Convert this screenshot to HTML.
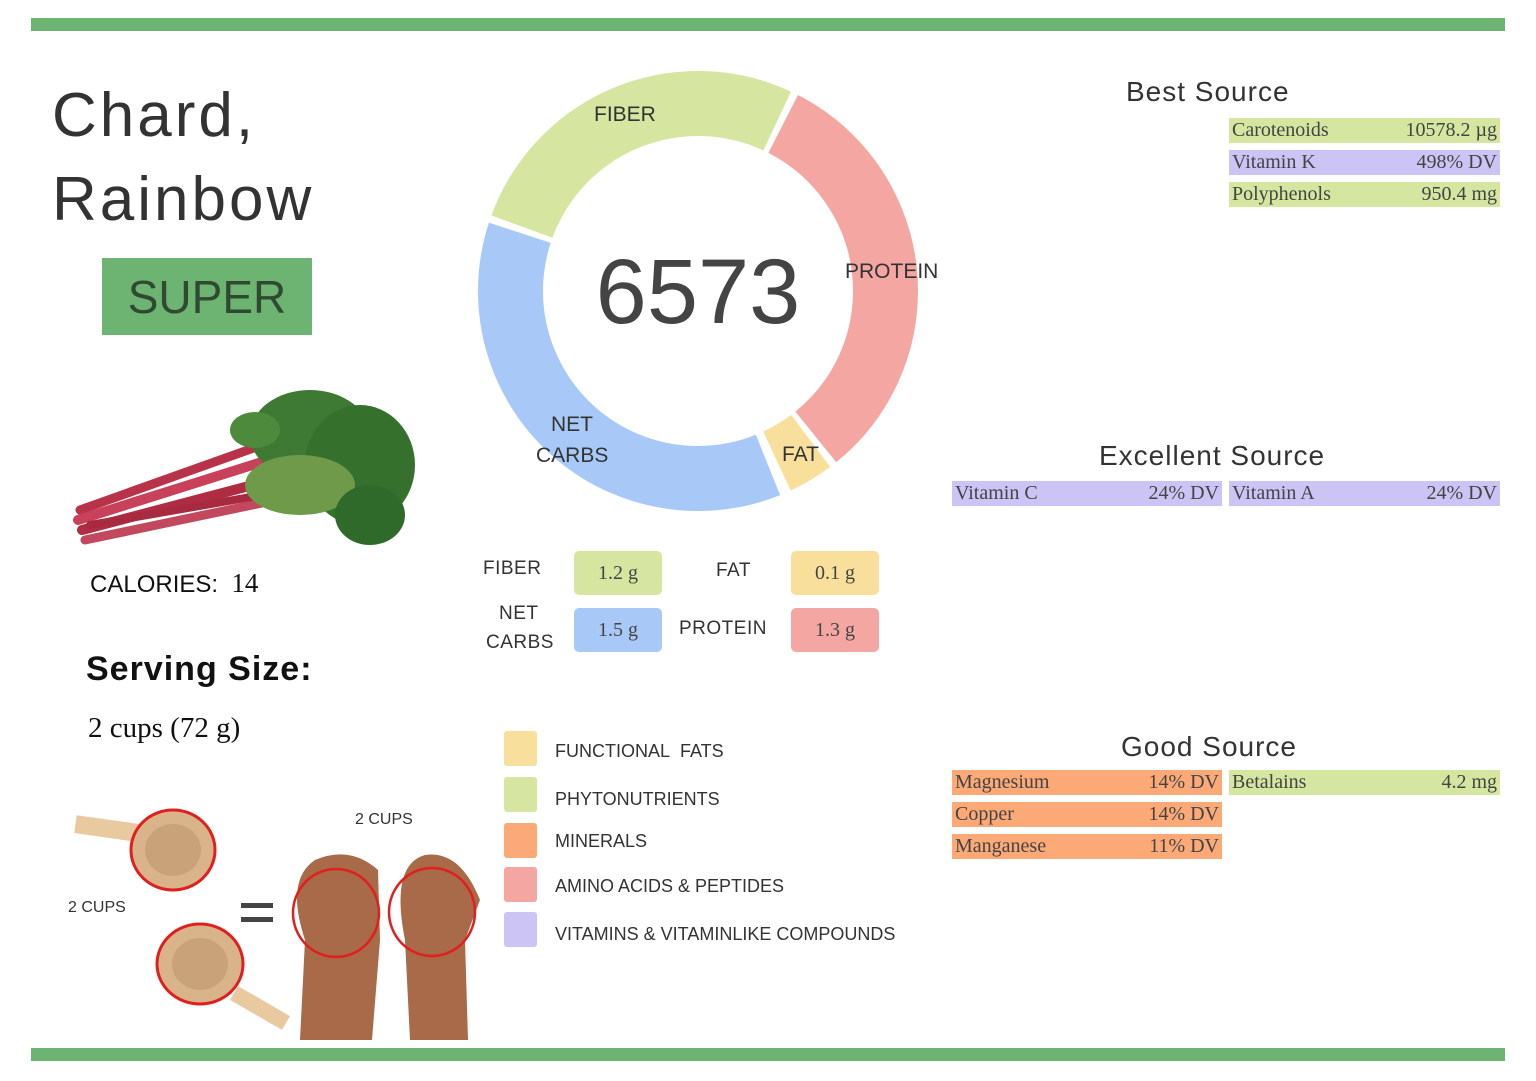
<!DOCTYPE html>
<html><head><meta charset="utf-8"><style>
body{margin:0;width:1536px;height:1081px;background:#fff;position:relative;overflow:hidden;font-family:"Liberation Sans",sans-serif;color:#333}
.a{position:absolute;white-space:nowrap}
.bar{position:absolute;left:31px;width:1474px;height:13px;background:#6db472}
.ser{font-family:"Liberation Serif",serif;font-size:20px;color:#444}
.row{position:absolute;height:25px;display:flex;justify-content:space-between;align-items:center;padding:0 3px;box-sizing:border-box}
.g{background:#d5e6a0}.p{background:#cbc4f5}.o{background:#fba977}
.pill{position:absolute;width:88px;height:44px;border-radius:5px;font-family:"Liberation Serif",serif;font-size:20px;color:#444;display:flex;align-items:center;justify-content:center}
.lab{font-size:19px;color:#333;letter-spacing:.5px}
.sw{position:absolute;left:504px;width:33px;height:35px;border-radius:3px}
</style></head><body>
<div class="bar" style="top:18px"></div>
<div class="bar" style="top:1048px"></div>

<div class="a" style="left:52px;top:74px;font-size:62px;color:#333;line-height:84px;letter-spacing:3px">Chard,<br>Rainbow</div>
<div class="a" style="left:102px;top:258px;width:210px;height:77px;background:#6db472;color:#2f4a30;font-size:46px;display:flex;align-items:center;justify-content:center">SUPER</div>

<svg class="a" style="left:60px;top:375px" width="370" height="185">
<g stroke-linecap="round">
<line x1="20" y1="135" x2="230" y2="60" stroke="#b8334a" stroke-width="9"/>
<line x1="18" y1="145" x2="240" y2="75" stroke="#c9405a" stroke-width="10"/>
<line x1="22" y1="155" x2="250" y2="95" stroke="#b02c43" stroke-width="10"/>
<line x1="25" y1="165" x2="240" y2="120" stroke="#c2485e" stroke-width="9"/>
<line x1="30" y1="150" x2="260" y2="110" stroke="#a82a40" stroke-width="8"/>
</g>
<g fill="#3f7a35">
<ellipse cx="250" cy="60" rx="60" ry="45"/>
<ellipse cx="300" cy="90" rx="55" ry="60" fill="#35702d"/>
<ellipse cx="240" cy="110" rx="55" ry="30" fill="#6e9a4a"/>
<ellipse cx="195" cy="55" rx="25" ry="18" fill="#4e8a3c"/>
<ellipse cx="310" cy="140" rx="35" ry="30" fill="#2f6a2a"/>
</g>
</svg>

<div class="a" style="left:90px;top:568px;font-size:24px;color:#111">CALORIES:&nbsp; <span style="font-family:'Liberation Serif',serif;font-size:27px">14</span></div>
<div class="a" style="left:86px;top:650px;font-size:34px;font-weight:bold;color:#111;letter-spacing:1px">Serving Size:</div>
<div class="a" style="left:88px;top:712px;font-family:'Liberation Serif',serif;font-size:29px;color:#111">2 cups (72 g)</div>

<svg class="a" style="left:60px;top:790px" width="430" height="250">
<rect x="15" y="30" width="70" height="18" fill="#e8c9a0" transform="rotate(8 50 40)"/>
<ellipse cx="113" cy="60" rx="42" ry="40" fill="#d9b48a" stroke="#e01f1f" stroke-width="3"/>
<ellipse cx="113" cy="60" rx="28" ry="26" fill="#caa27a"/>
<rect x="170" y="210" width="60" height="16" fill="#e8c9a0" transform="rotate(30 200 218)"/>
<ellipse cx="140" cy="174" rx="43" ry="40" fill="#d9b48a" stroke="#e01f1f" stroke-width="3"/>
<ellipse cx="140" cy="174" rx="28" ry="26" fill="#caa27a"/>
<text x="8" y="122" font-family="Liberation Sans" font-size="16" fill="#333">2 CUPS</text>
<text x="295" y="34" font-family="Liberation Sans" font-size="16" fill="#333">2 CUPS</text>
<rect x="181" y="113" width="32" height="5" fill="#444"/><rect x="181" y="127" width="32" height="5" fill="#444"/>
<path d="M240 250 L245 150 Q225 90 255 70 Q290 55 318 80 L320 150 L312 250Z" fill="#a86a48"/>
<path d="M350 250 L345 150 Q330 75 365 65 Q400 60 420 110 L405 150 L408 250Z" fill="#a86a48"/>
<ellipse cx="276" cy="123" rx="43" ry="44" fill="none" stroke="#e01f1f" stroke-width="2.5"/>
<ellipse cx="372" cy="122" rx="43" ry="44" fill="none" stroke="#e01f1f" stroke-width="2.5"/>
</svg>

<svg class="a" style="left:0;top:0" width="1536" height="1081">
<g transform="translate(698 291) rotate(-90)" fill="none" stroke-width="65">
<circle r="187.5" stroke="#d6e6a1" stroke-dasharray="229.1 1178.1" stroke-dashoffset="-949"/>
<circle r="187.5" stroke="#d6e6a1" stroke-dasharray="81.8 1178.1" stroke-dashoffset="0"/>
<circle r="187.5" stroke="#f4a6a3" stroke-dasharray="373.1 1178.1" stroke-dashoffset="-88.4"/>
<circle r="187.5" stroke="#f8df9b" stroke-dasharray="39.3 1178.1" stroke-dashoffset="-468"/>
<circle r="187.5" stroke="#a8c9f7" stroke-dasharray="425.4 1178.1" stroke-dashoffset="-517.1"/>
</g>
<g font-family="Liberation Sans" font-size="21" fill="#333">
<text x="594" y="121">FIBER</text>
<text x="845" y="278">PROTEIN</text>
<text x="551" y="431">NET</text>
<text x="536" y="462">CARBS</text>
<text x="782" y="461">FAT</text>
</g>
<text x="698" y="323" text-anchor="middle" font-family="Liberation Sans" font-size="92" fill="#444">6573</text>
</svg>

<div class="a lab" style="left:483px;top:558px">FIBER</div>
<div class="pill" style="left:574px;top:551px;background:#d6e6a1">1.2 g</div>
<div class="a lab" style="left:716px;top:560px">FAT</div>
<div class="pill" style="left:791px;top:551px;background:#f8df9b">0.1 g</div>
<div class="a lab" style="left:499px;top:603px;text-align:center">NET</div>
<div class="a lab" style="left:486px;top:632px">CARBS</div>
<div class="pill" style="left:574px;top:608px;background:#a8c9f7">1.5 g</div>
<div class="a lab" style="left:679px;top:618px">PROTEIN</div>
<div class="pill" style="left:791px;top:608px;background:#f4a6a3">1.3 g</div>

<div class="sw" style="top:731px;background:#f8df9b"></div>
<div class="sw" style="top:777px;background:#d6e6a1"></div>
<div class="sw" style="top:823px;background:#fba977"></div>
<div class="sw" style="top:867px;background:#f4a6a3"></div>
<div class="sw" style="top:912px;background:#cbc4f5"></div>
<div class="a" style="left:555px;top:741px;font-size:18px">FUNCTIONAL&nbsp; FATS</div>
<div class="a" style="left:555px;top:789px;font-size:18px">PHYTONUTRIENTS</div>
<div class="a" style="left:555px;top:831px;font-size:18px">MINERALS</div>
<div class="a" style="left:555px;top:876px;font-size:18px">AMINO ACIDS &amp; PEPTIDES</div>
<div class="a" style="left:555px;top:924px;font-size:18px">VITAMINS &amp; VITAMINLIKE COMPOUNDS</div>

<div class="a" style="left:1126px;top:76px;font-size:28px;letter-spacing:1px">Best Source</div>
<div class="row ser g" style="left:1229px;top:118px;width:271px"><span>Carotenoids</span><span>10578.2 µg</span></div>
<div class="row ser p" style="left:1229px;top:150px;width:271px"><span>Vitamin K</span><span>498% DV</span></div>
<div class="row ser g" style="left:1229px;top:182px;width:271px"><span>Polyphenols</span><span>950.4 mg</span></div>

<div class="a" style="left:1099px;top:440px;font-size:28px;letter-spacing:1px">Excellent Source</div>
<div class="row ser p" style="left:952px;top:481px;width:270px"><span>Vitamin C</span><span>24% DV</span></div>
<div class="row ser p" style="left:1229px;top:481px;width:271px"><span>Vitamin A</span><span>24% DV</span></div>

<div class="a" style="left:1121px;top:731px;font-size:28px;letter-spacing:1px">Good Source</div>
<div class="row ser o" style="left:952px;top:770px;width:270px"><span>Magnesium</span><span>14% DV</span></div>
<div class="row ser g" style="left:1229px;top:770px;width:271px"><span>Betalains</span><span>4.2 mg</span></div>
<div class="row ser o" style="left:952px;top:802px;width:270px"><span>Copper</span><span>14% DV</span></div>
<div class="row ser o" style="left:952px;top:834px;width:270px"><span>Manganese</span><span>11% DV</span></div>
</body></html>
